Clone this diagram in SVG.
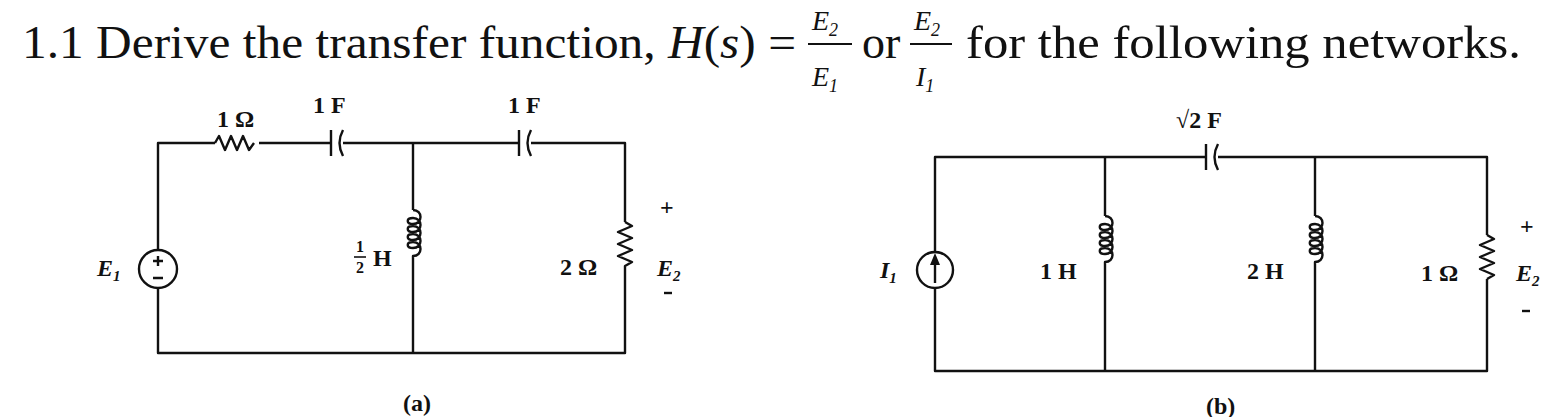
<svg xmlns="http://www.w3.org/2000/svg" width="1561" height="417" viewBox="0 0 1561 417">
<style>
.w{fill:none;stroke:#111;stroke-width:2.4;stroke-linejoin:round}
.t{font-family:"Liberation Serif",serif;fill:#111}
.l{font-family:"Liberation Serif",serif;fill:#111;font-size:24px;font-weight:bold}
.s{font-size:15px}
.f{font-size:16px}
.i{font-style:italic}
</style>
<rect width="1561" height="417" fill="#fff"/>
<g id="title">
<text class="t" x="22" y="58" font-size="46" textLength="774" lengthAdjust="spacingAndGlyphs">1.1 Derive the transfer function, <tspan class="i">H</tspan>(<tspan class="i">s</tspan>) =</text>
<text class="t i" x="812" y="30" font-size="28">E<tspan font-size="18" dy="6">2</tspan></text>
<line x1="808" y1="44" x2="852" y2="44" stroke="#111" stroke-width="2"/>
<text class="t i" x="812" y="86" font-size="28">E<tspan font-size="18" dy="6">1</tspan></text>
<text class="t" x="862" y="58" font-size="46">or</text>
<text class="t i" x="914" y="30" font-size="28">E<tspan font-size="18" dy="6">2</tspan></text>
<line x1="910" y1="44" x2="952" y2="44" stroke="#111" stroke-width="2"/>
<text class="t i" x="916" y="86" font-size="28">I<tspan font-size="18" dy="6">1</tspan></text>
<text class="t" x="966" y="58" font-size="46" textLength="555" lengthAdjust="spacingAndGlyphs">for the following networks.</text>
</g>
<g id="connectors">
<path class="w" d="M158 251 V143 H215 M259 143 H331 M343 143 H519 M531 143 H625 V222 M625 268 V353 H158 V287"/>
<path class="w" d="M413 143 V210 M413 282 V353"/>
<path class="w" d="M935 252 V157 H1206 M1218 157 H1487 V235 M1487 279 V371 H935 V288"/>
<path class="w" d="M1105 157 V216 M1105 288 V371 M1315 157 V216 M1315 288 V371"/>
</g>
<g id="R1"><path class="w" d="M215 143 l4 -7 l6 14 l6 -14 l6 14 l6 -14 l6 14 l5 -7"/><text class="l" x="217" y="127">1 Ω</text></g>
<g id="C1"><path class="w" d="M331 130 V156 M343 130 Q336 143 343 156"/><text class="l" x="313" y="113">1 F</text></g>
<g id="C2"><path class="w" d="M519 130 V156 M531 130 Q524 143 531 156"/><text class="l" x="508" y="113">1 F</text></g>
<g id="L1"><path class="w" d="M413 210 c10 0 10 14 0 14 c-7 0 -7 -6 0 -6 c10 0 10 14 0 14 c-7 0 -7 -6 0 -6 c10 0 10 14 0 14 c-7 0 -7 -6 0 -6 c10 0 10 14 0 14 c-7 0 -7 -6 0 -6 c10 0 10 14 0 14 V282"/>
<text class="l f" x="356" y="252">1</text><line x1="354" y1="257" x2="366" y2="257" stroke="#111" stroke-width="1.6"/><text class="l f" x="356" y="273">2</text><text class="l" x="373" y="266">H</text></g>
<g id="R2"><path class="w" d="M625 222 l7 4 l-14 6 l14 6 l-14 6 l14 6 l-14 6 l14 6 l-7 4 V268"/><text class="l" x="560" y="275">2 Ω</text></g>
<g id="E1"><circle class="w" cx="158" cy="269" r="19"/><path class="w" d="M153 261 h10 M158 256 v10 M153 278 h10"/><text class="l i" x="97" y="276">E<tspan class="s" dy="5">1</tspan></text></g>
<g id="E2a"><text class="l" x="660" y="215">+</text><text class="l i" x="657" y="276">E<tspan class="s" dy="5">2</tspan></text><line x1="664" y1="293" x2="672" y2="293" stroke="#111" stroke-width="2.4"/></g>
<text class="l" x="403" y="411">(a)</text>
<g id="I1"><circle class="w" cx="935" cy="270" r="18"/><path class="w" d="M935 283 V260"/><path d="M930 265 L935 253 L940 265 Z" fill="#111"/><text class="l i" x="880" y="278">I<tspan class="s" dy="5">1</tspan></text></g>
<g id="C3"><path class="w" d="M1206 144 V170 M1218 144 Q1211 157 1218 170"/><text class="l" x="1176" y="128">√2 F</text></g>
<g id="L2"><path class="w" d="M1105 216 c10 0 10 14 0 14 c-7 0 -7 -6 0 -6 c10 0 10 14 0 14 c-7 0 -7 -6 0 -6 c10 0 10 14 0 14 c-7 0 -7 -6 0 -6 c10 0 10 14 0 14 c-7 0 -7 -6 0 -6 c10 0 10 14 0 14 V288"/><text class="l" x="1040" y="279">1 H</text></g>
<g id="L3"><path class="w" d="M1315 216 c10 0 10 14 0 14 c-7 0 -7 -6 0 -6 c10 0 10 14 0 14 c-7 0 -7 -6 0 -6 c10 0 10 14 0 14 c-7 0 -7 -6 0 -6 c10 0 10 14 0 14 c-7 0 -7 -6 0 -6 c10 0 10 14 0 14 V288"/><text class="l" x="1247" y="279">2 H</text></g>
<g id="R3"><path class="w" d="M1487 235 l7 4 l-14 6 l14 6 l-14 6 l14 6 l-14 6 l14 6 l-7 4 V279"/><text class="l" x="1421" y="281">1 Ω</text></g>
<g id="E2b"><text class="l" x="1520" y="234">+</text><text class="l i" x="1516" y="281">E<tspan class="s" dy="5">2</tspan></text><line x1="1522" y1="311" x2="1530" y2="311" stroke="#111" stroke-width="2.4"/></g>
<text class="l" x="1206" y="414">(b)</text>
</svg>
